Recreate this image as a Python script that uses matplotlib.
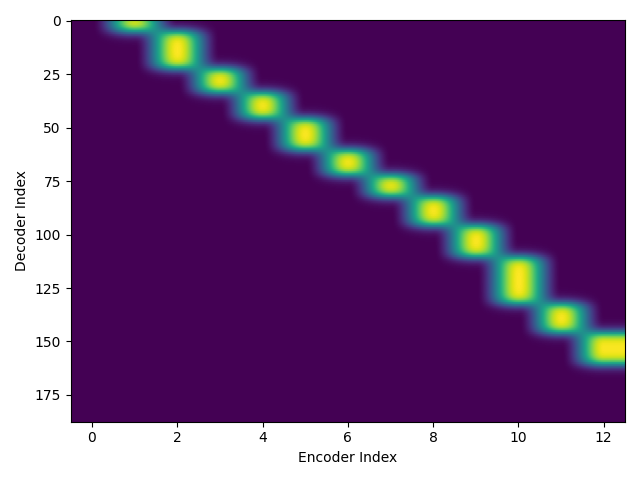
import numpy as np
import matplotlib
matplotlib.use("Agg")
import matplotlib.pyplot as plt

# Alignment: for each encoder index, the decoder rows
# where its attention segment starts and ends (encoder 0 receives none).
n_decoder = 188
encoder_index = list(range(13))
seg_start = [-3.0, -3.0, 5.3, 22.6, 33.8, 46.0, 60.6, 72.3, 82.3, 95.8, 110.5, 132.3, 145.8]
seg_end   = [-3.0, 5.3, 22.6, 33.8, 46.0, 60.6, 72.3, 82.3, 95.8, 110.5, 132.3, 145.8, 160.5]
edge_softness = 1.35  # rows

def sig(x):
    return 1.0 / (1.0 + np.exp(-x))

rows = np.arange(n_decoder)[:, None]
starts = np.array(seg_start)[None, :]
ends = np.array(seg_end)[None, :]
attn = sig((rows - starts) / edge_softness) - sig((rows - ends) / edge_softness)
attn = np.clip(attn, 0, 1)

fig, ax = plt.subplots(figsize=(6.4, 4.8), dpi=100)
ax.imshow(attn, aspect='auto', interpolation='hanning', interpolation_stage='data',
          cmap='viridis')
ax.set_xlabel('Encoder Index')
ax.set_ylabel('Decoder Index')
fig.tight_layout()
fig.savefig('out.png', dpi=100)
